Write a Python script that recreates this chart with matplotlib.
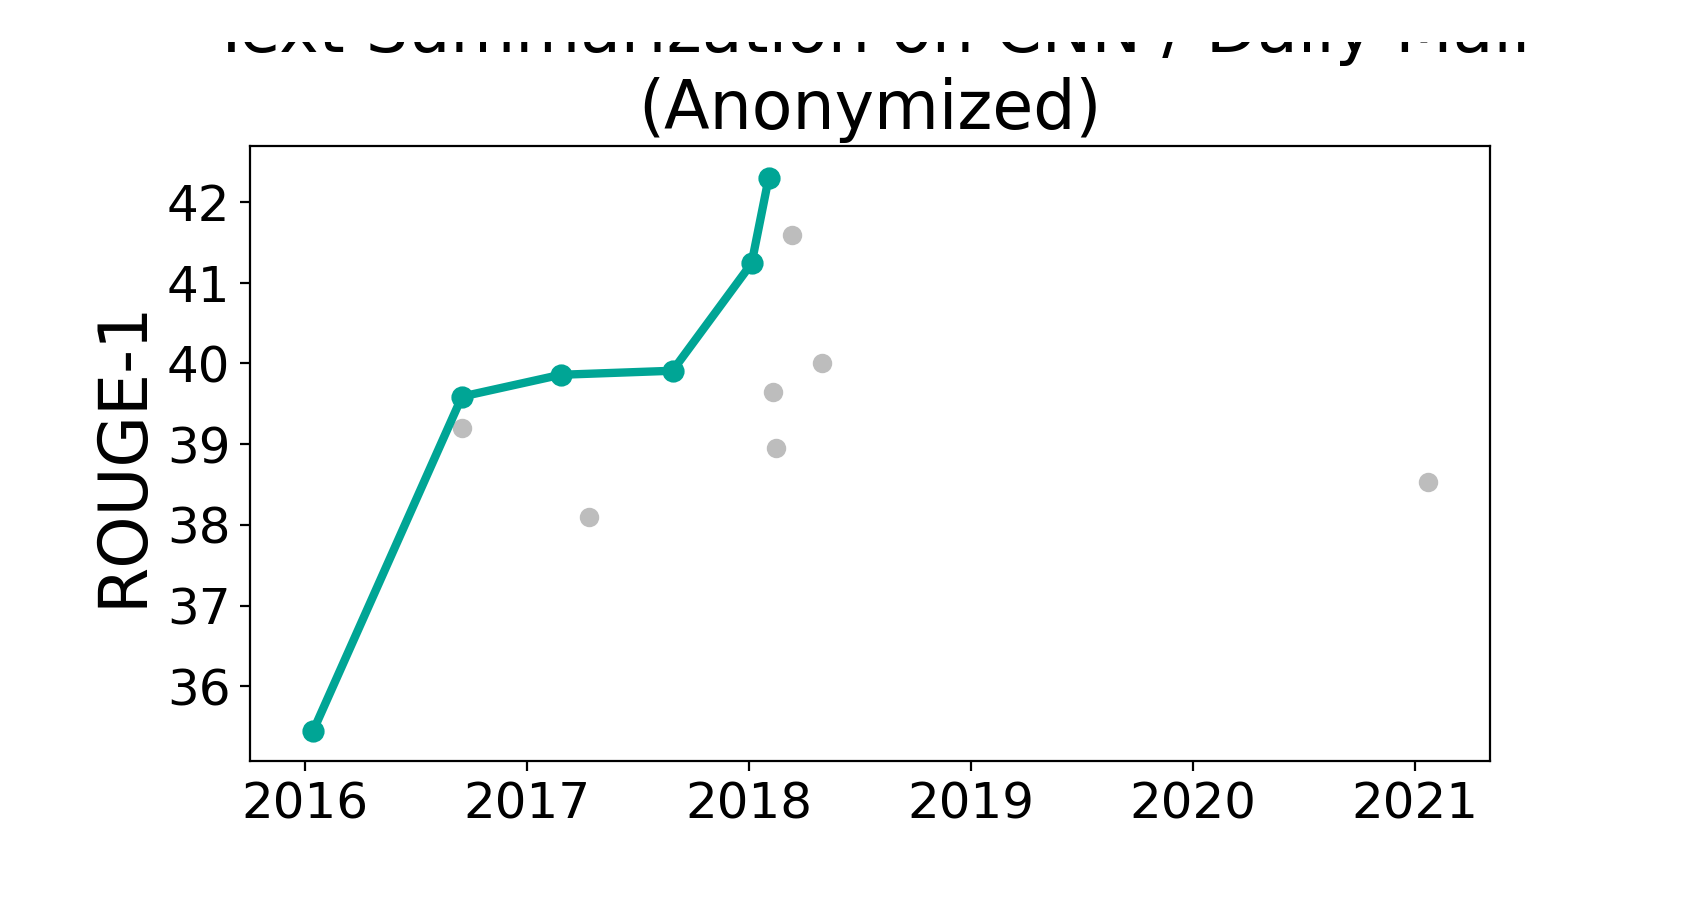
import matplotlib
matplotlib.use("Agg")
import matplotlib.pyplot as plt
from matplotlib.patches import Rectangle

# SOTA line (dates as fractional years, ROUGE-1 values)
sota_years = [2016.039, 2016.709, 2017.153, 2017.657, 2018.013, 2018.090]
sota_rouge = [35.45, 39.59, 39.86, 39.91, 41.24, 42.30]

# Other (non-SOTA) results
other_years = [2016.709, 2017.280, 2018.194, 2018.330, 2018.109, 2018.122, 2021.057]
other_rouge = [39.20, 38.10, 41.59, 40.01, 39.65, 38.95, 38.53]

year_ticks = [2016, 2017, 2018, 2019, 2020, 2021]
rouge_ticks = [36, 37, 38, 39, 40, 41, 42]

title = "Text Summarization on CNN / Daily Mail\n(Anonymized)"
ylabel = "ROUGE-1"

teal = "#00A595"
grey = "#BDBDBD"

fig = plt.figure(figsize=(8.5, 4.5), dpi=200)
ax = fig.add_axes([0.147, 0.1544, 0.7295, 0.6839])

ax.plot(other_years, other_rouge, "o", color=grey, markersize=6, linestyle="none", zorder=2)
ax.plot(sota_years, sota_rouge, "-o", color=teal, linewidth=3, markersize=7, zorder=3)

ax.set_xlim(2015.754, 2021.338)
ax.set_ylim(35.075, 42.70)
ax.set_xticks(year_ticks)
ax.set_xticklabels([str(y) for y in year_ticks])
ax.set_yticks(rouge_ticks)
ax.tick_params(labelsize=18)
ax.set_ylabel(ylabel, fontsize=24)
ax.set_title(title, fontsize=24)

# the reference image has its top band cropped to white
fig.patches.append(Rectangle((0, 1 - 42 / 900), 1, 42 / 900, transform=fig.transFigure,
                             facecolor="white", edgecolor="none", zorder=10))

fig.savefig("out.png", dpi=200)
